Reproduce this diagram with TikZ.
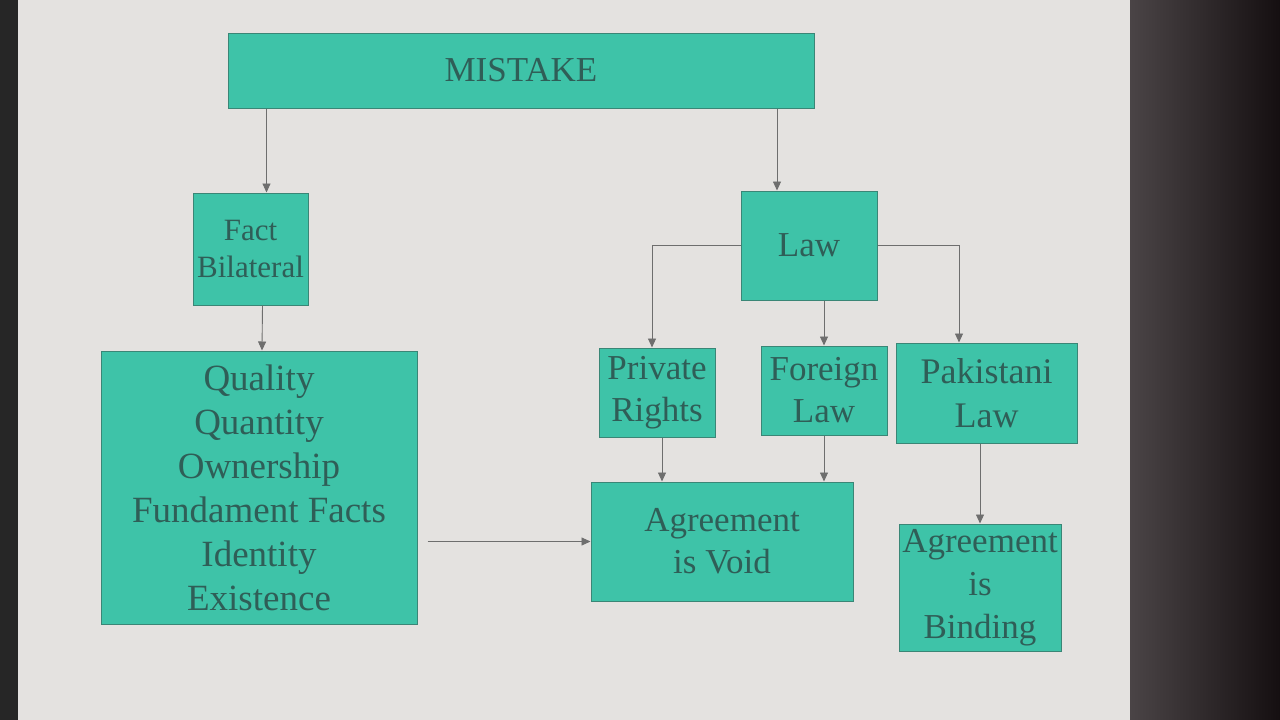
\documentclass[tikz,border=0pt]{standalone}
\usepackage{fontspec}
\setmainfont{Liberation Serif}
\usetikzlibrary{arrows.meta, positioning, calc}

\definecolor{slidebg}{HTML}{E4E2E0}
\definecolor{bezelL}{HTML}{4A4446}
\definecolor{bezelR}{HTML}{150F11}
\definecolor{boxfill}{HTML}{3EC3A8}
\definecolor{boxline}{HTML}{3A8676}
\definecolor{boxtext}{HTML}{2F5E57}
\definecolor{linkgrey}{HTML}{6E6E6E}

\tikzset{
  box/.style={draw=boxline, fill=boxfill, text=boxtext, inner sep=0pt, align=center, line width=1pt},
  link/.style={draw=linkgrey, line width=0.9pt, -{Triangle[width=8pt,length=9pt]}},
}

\begin{document}
\begin{tikzpicture}[x=1pt,y=-1pt]
% Screen and bezel
\fill[slidebg] (0,0) rectangle (1280,720);
\fill[black!85] (0,0) rectangle (18,720);
\shade[left color=bezelL, right color=bezelR] (1130,0) rectangle (1280,720);
\useasboundingbox (0,0) rectangle (1280,720);

% Top box
\node[box, minimum width=586pt, minimum height=75pt, font=\fontsize{35}{40}\selectfont] (mistake) at (521,70.5) {MISTAKE};

% Fact branch
\node[box, minimum width=115pt, minimum height=112pt, font=\fontsize{31}{37}\selectfont] (fact) at (250.5,249) {Fact\\Bilateral};
\node[box, minimum width=316pt, minimum height=273pt, font=\fontsize{37}{44}\selectfont] (quality) at (259,487.5)
  {Quality\\Quantity\\Ownership\\Fundament Facts\\Identity\\Existence};

% Law branch
\node[box, minimum width=136pt, minimum height=109pt, font=\fontsize{35}{42}\selectfont] (law) at (809,245.5) {Law};
\node[box, minimum width=116pt, minimum height=89pt, font=\fontsize{35}{42}\selectfont] (private) at (657,392.5) {Private\\Rights};
\node[box, minimum width=126pt, minimum height=89pt, font=\fontsize{35}{42}\selectfont] (foreign) at (824,390.5) {Foreign\\Law};
\node[box, minimum width=181pt, minimum height=100pt, font=\fontsize{36}{44}\selectfont] (pakistani) at (986.5,393) {Pakistani\\Law};

% Outcomes
\node[box, minimum width=262pt, minimum height=119pt, font=\fontsize{35}{42}\selectfont] (void) at (722,541.5) {Agreement\\is Void};
\node[box, minimum width=162pt, minimum height=127pt, font=\fontsize{35}{43}\selectfont] (binding) at (980,587.5) {Agreement\\is\\Binding};

% Connectors
\draw[link] ([xshift=16pt]fact.north |- mistake.south) -- ([xshift=16pt]fact.north);
\draw[link] ([xshift=-32pt]law.north |- mistake.south) -- ([xshift=-32pt]law.north);
\draw[link] ([xshift=12pt]fact.south) -- ([xshift=3pt]quality.north);
\draw[link] (law.west) -| ([xshift=-5pt]private.north);
\draw[link] (law.south -| foreign.north) -- (foreign.north);
\draw[link] (law.east) -| ([xshift=-27.5pt]pakistani.north);
\draw[link] ([xshift=5pt]private.south) -- ([xshift=5pt]private.south |- void.north);
\draw[link] (foreign.south) -- (foreign.south |- void.north);
\draw[link] (pakistani.south -| binding.north) -- (binding.north);
\draw[link, shorten <=10pt] (quality.east |- void.west) -- (void.west);
\end{tikzpicture}
\end{document}
